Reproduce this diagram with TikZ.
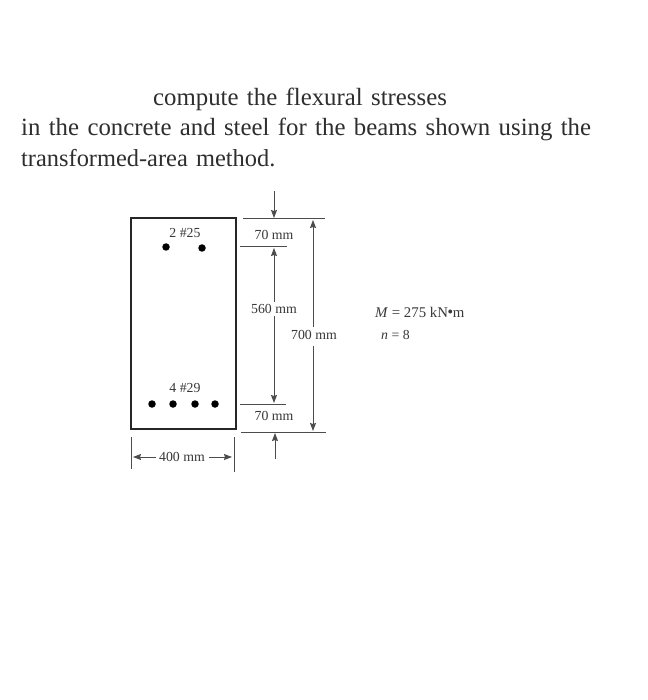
\documentclass[tikz,border=0pt]{standalone}
\usepackage{fontspec}
\setmainfont{Liberation Serif}
\newfontfamily\prosefont[WordSpace=1.35]{Liberation Serif}
\usetikzlibrary{arrows.meta}
\usetikzlibrary{positioning}

\tikzset{
  prose/.style={anchor=base west, inner sep=0pt, font=\prosefont\fontsize{24.8}{28}\selectfont, text=black!82},
  dim/.style={inner sep=0pt, font=\fontsize{13.8}{15}\selectfont, text=black!78},
  bar/.style={circle, fill=black, inner sep=0pt, minimum size=7.5pt},
  ext/.style={draw=black!70, line width=1pt},
  dimarrow/.style={draw=black!70, line width=1pt, -{Stealth[length=8pt, width=6pt, inset=1pt]}},
}

\begin{document}
\begin{tikzpicture}[x=1pt, y=-1pt]
    \useasboundingbox[fill=white] (0,0) rectangle (647,700);

    % Text
    \node[prose] (l1) at (153,106) {compute the flexural stresses};
    \node[prose] (l2) at (21,136) {in the concrete and steel for the beams shown using the};
    \node[prose, font=\prosefont\fontsize{24.4}{28}\selectfont] (l3) at (21,167) {transformed-area method.};

    % Beam
    \node[draw=black!85, line width=1.3pt, minimum width=105pt, minimum height=211pt,
      inner sep=0pt] (beam) at (183.5,323.5) {};
    \node[dim] (top) at (185,233) {2 \#25};
    \node[dim] (bot) at (185,388) {4 \#29};

    % Bars
    \node[bar] (t1) at (166,247) {};
    \node[bar] (t2) at (202,248) {};
    \node[bar] (b1) at (152,404) {};
    \node[bar] (b2) at (173,404) {};
    \node[bar] (b3) at (195,404) {};
    \node[bar] (b4) at (215,404) {};

    % Labels
    \node[dim] (d70t) at (274,235) {70 mm};
    \node[dim] (d560) at (274,308.5) {560 mm};
    \node[dim] (d700) at (314,335) {700 mm};
    \node[dim] (d70b) at (274,416) {70 mm};
    \node[dim] (d400) at (182,457) {400 mm};
    \node[dim, anchor=west, font=\fontsize{14.8}{16}\selectfont] (mom) at (375,312) {\textit{M} = 275 kN\raisebox{0.15em}{\scalebox{0.7}{$\bullet$}}m};
    \node[dim, anchor=west] (nn) at (381,335) {\textit{n} = 8};

    % Extension lines
    \coordinate (e1a) at (243,219);  \coordinate (e1b) at (325,219);
    \coordinate (e2a) at (240,247);  \coordinate (e2b) at (287,247);
    \coordinate (e3a) at (240,404);  \coordinate (e3b) at (286,404);
    \coordinate (e4a) at (241,432);  \coordinate (e4b) at (326,432);
    \coordinate (w1a) at (131,437);  \coordinate (w1b) at (131,469);
    \coordinate (w2a) at (234,437);  \coordinate (w2b) at (234,472);
    \draw[ext] (e1a) -- (e1b);
    \draw[ext] (e2a) -- (e2b);
    \draw[ext] (e3a) -- (e3b);
    \draw[ext] (e4a) -- (e4b);
    \draw[ext] (w1a) -- (w1b);
    \draw[ext] (w2a) -- (w2b);

    % Arrows
    \coordinate (a1) at (274,191);  \coordinate (a1e) at (274,218);
    \coordinate (a2) at (274,248);  \coordinate (a3) at (274,403);
    \coordinate (a4) at (275,459);  \coordinate (a4e) at (275,433);
    \coordinate (a5) at (313,220);  \coordinate (a6) at (313,431);
    \coordinate (a7) at (133,457);  \coordinate (a8) at (232,457);
    \draw[dimarrow] (a1) -- (a1e);
    \draw[dimarrow] (d560.north -| a2) ++(0,-2) -- (a2);
    \draw[dimarrow] (d560.south -| a3) ++(0,3) -- (a3);
    \draw[dimarrow] (a4) -- (a4e);
    \draw[dimarrow] (d700.north -| a5) ++(0,-3) -- (a5);
    \draw[dimarrow] (d700.south -| a6) ++(0,6) -- (a6);
    \draw[dimarrow] (d400.west) ++(-3,0) -- (a7);
    \draw[dimarrow] (d400.east) ++(4,0) -- (a8);
\end{tikzpicture}
\end{document}
